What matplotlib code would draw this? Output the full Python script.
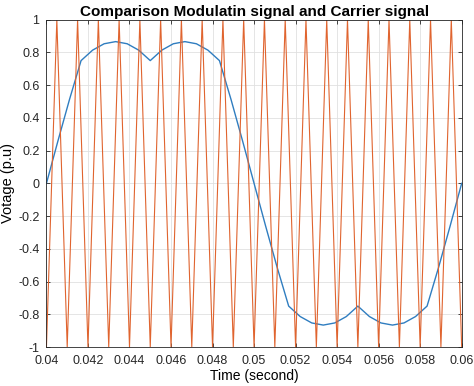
import matplotlib.pyplot as plt
import numpy as np
from matplotlib.ticker import FuncFormatter

# modulating signal samples (time in s, voltage in p.u)
mod_t = [0.04, 0.040556, 0.041111, 0.041667, 0.042222, 0.042778, 0.043333, 0.043889,
         0.044444, 0.045, 0.045556, 0.046111, 0.046667, 0.047222, 0.047778, 0.048333,
         0.048889, 0.049444, 0.05, 0.050556, 0.051111, 0.051667, 0.052222, 0.052778,
         0.053333, 0.053889, 0.054444, 0.055, 0.055556, 0.056111, 0.056667, 0.057222,
         0.057778, 0.058333, 0.058889, 0.059444, 0.06]
mod_v = [0.0, 0.2605, 0.513, 0.75, 0.8138, 0.8529, 0.866, 0.8529,
         0.8138, 0.75, 0.8138, 0.8529, 0.866, 0.8529, 0.8138, 0.75,
         0.513, 0.2605, 0.0, -0.2605, -0.513, -0.75, -0.8138, -0.8529,
         -0.866, -0.8529, -0.8138, -0.75, -0.8138, -0.8529, -0.866, -0.8529,
         -0.8138, -0.75, -0.513, -0.2605, 0.0]

# carrier triangle vertices
car_t = [0.04, 0.0405, 0.041, 0.0415, 0.042, 0.0425, 0.043, 0.0435, 0.044, 0.0445,
         0.045, 0.0455, 0.046, 0.0465, 0.047, 0.0475, 0.048, 0.0485, 0.049, 0.0495,
         0.05, 0.0505, 0.051, 0.0515, 0.052, 0.0525, 0.053, 0.0535, 0.054, 0.0545,
         0.055, 0.0555, 0.056, 0.0565, 0.057, 0.0575, 0.058, 0.0585, 0.059, 0.0595, 0.06]
car_v = [-1, 1, -1, 1, -1, 1, -1, 1, -1, 1,
         -1, 1, -1, 1, -1, 1, -1, 1, -1, 1,
         -1, 1, -1, 1, -1, 1, -1, 1, -1, 1,
         -1, 1, -1, 1, -1, 1, -1, 1, -1, 1, -1]

x_ticks = [0.04, 0.042, 0.044, 0.046, 0.048, 0.05, 0.052, 0.054, 0.056, 0.058, 0.06]
y_ticks = [-1, -0.8, -0.6, -0.4, -0.2, 0, 0.2, 0.4, 0.6, 0.8, 1]

plt.rcParams['font.family'] = ['Liberation Sans', 'DejaVu Sans']

fig = plt.figure(figsize=(4.74, 3.86), dpi=100)
ax = fig.add_axes([0.098, 0.101, 0.876, 0.848])

ax.plot(mod_t, mod_v, color='#2F7DC0', linewidth=1.0)
ax.plot(car_t, car_v, color='#E0642F', linewidth=0.8)

ax.set_xlim(0.04, 0.06)
ax.set_ylim(-1, 1)
ax.set_xticks(x_ticks)
ax.set_yticks(y_ticks)
ax.xaxis.set_major_formatter(FuncFormatter(lambda v, p: f"{v:g}"))
ax.yaxis.set_major_formatter(FuncFormatter(lambda v, p: f"{v:g}"))
ax.tick_params(direction='in', top=True, right=True, labelsize=9, length=3,
               width=0.6, colors='#262626')
ax.tick_params(axis='x', pad=6)
ax.tick_params(axis='y', pad=5)
ax.grid(True, color='#e0e0e0', linewidth=0.6)
for s in ax.spines.values():
    s.set_color('#262626')
    s.set_linewidth(0.6)

ax.set_title('Comparison Modulatin signal and Carrier signal', fontsize=11,
             fontweight='bold', pad=3)
ax.set_xlabel('Time (second)', fontsize=10, labelpad=1)
ax.set_ylabel('Votage (p.u)', fontsize=10.5, labelpad=2)

fig.savefig('out.png', dpi=100)
